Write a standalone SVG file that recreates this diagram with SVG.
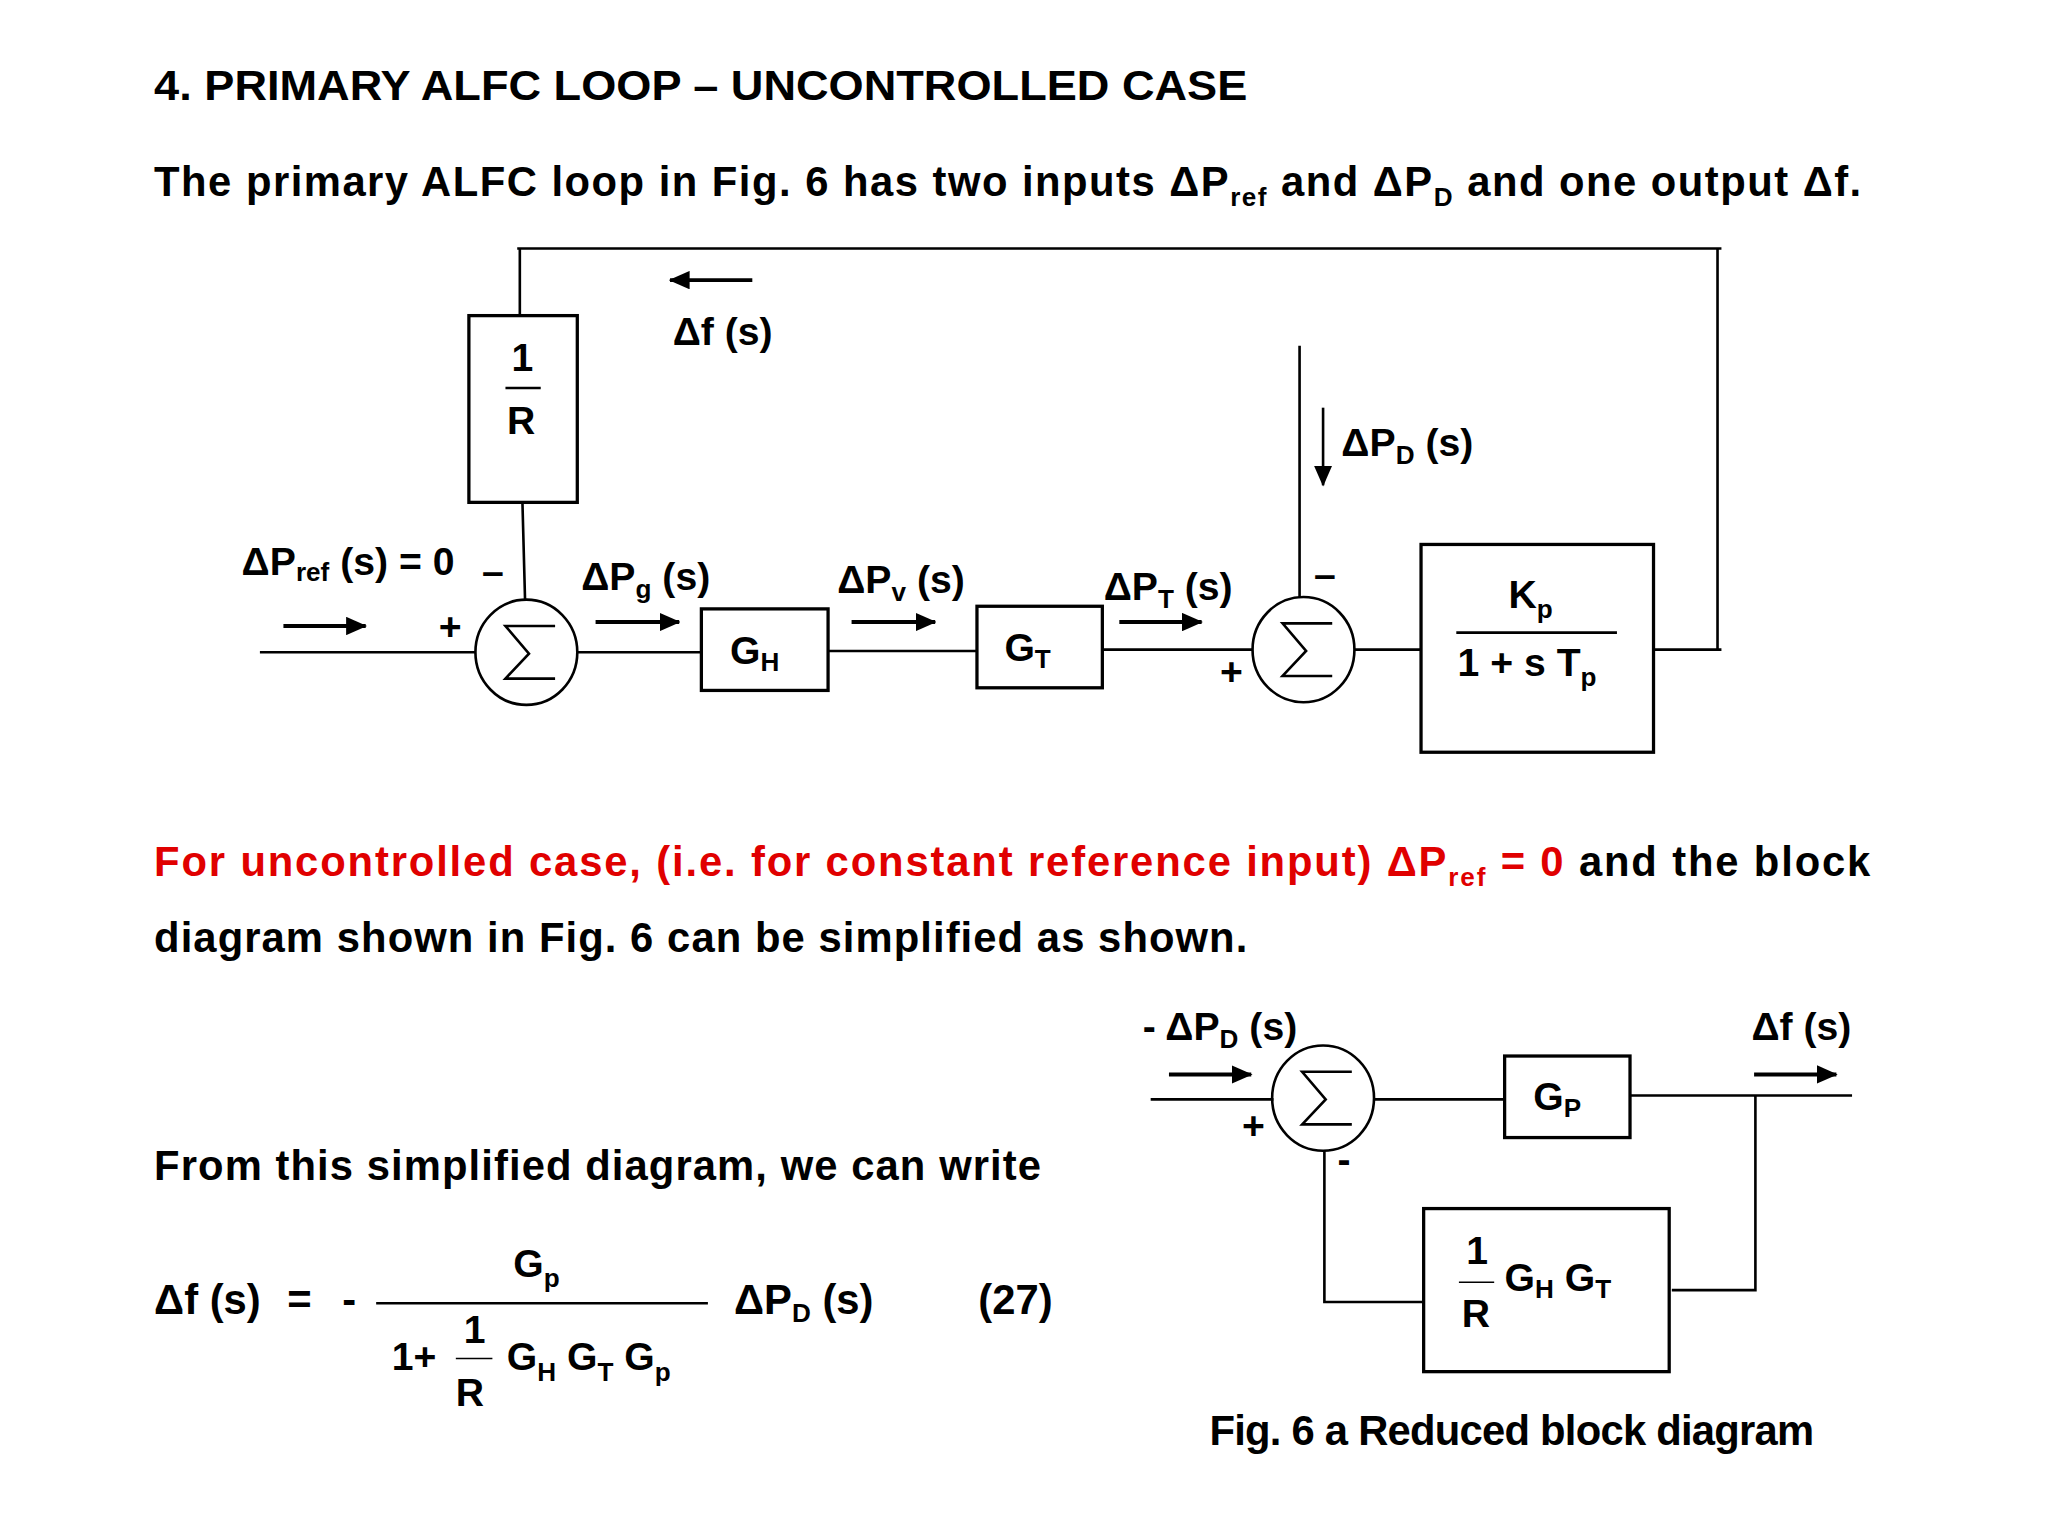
<svg xmlns="http://www.w3.org/2000/svg" width="2048" height="1536" viewBox="0 0 2048 1536">
<style>
text{font-family:"Liberation Sans",Arial,sans-serif;font-weight:bold;fill:#000}
.t{font-size:32px}
.l{font-size:30px}
.s{font-size:20px}
.red{fill:#e00000}
.ln{stroke:#000;stroke-width:2;fill:none}
.bx{stroke:#000;stroke-width:2.5;fill:none}
</style>
<defs>
<marker id="ah2" markerWidth="16" markerHeight="14" refX="15" refY="7" orient="auto" markerUnits="userSpaceOnUse"><path d="M0,0 L16,7 L0,14 Z" fill="#000"/></marker>
</defs>
<rect width="2048" height="1536" fill="#fff"/>
<g transform="scale(1.3061,1.3151)">
<g id="texts">
<text class="t" x="118" y="76" textLength="837" lengthAdjust="spacingAndGlyphs">4.   PRIMARY ALFC LOOP – UNCONTROLLED CASE</text>
<text class="t" x="118" y="149" textLength="1307">The primary ALFC loop in Fig. 6 has two inputs  ΔP<tspan class="s" dy="8">ref</tspan><tspan dy="-8"> and ΔP</tspan><tspan class="s" dy="8">D</tspan><tspan dy="-8">  and one output Δf.</tspan></text>
<text class="t" x="118" y="666" textLength="1314"><tspan class="red">For uncontrolled case, (i.e. for constant reference input) ΔP</tspan><tspan class="s red" dy="8">ref</tspan><tspan class="red" dy="-8"> = 0</tspan> and the block</text>
<text class="t" x="118" y="724" textLength="837">diagram shown in Fig. 6 can be simplified as shown.</text>
<text class="t" x="118" y="897" textLength="679">From this simplified diagram, we can write</text>
<text class="t" x="926" y="1099" textLength="463">Fig. 6 a Reduced block diagram</text>
</g>
<g id="connectors">
<path class="ln" d="M396,189 H1318 M1315,189 V494 M1265,494 H1318 M398,189 V240 M400,382 L402,456 M199,496 H364 M442,496 H537 M634,495 H748 M844,494 H959 M995,263 V454 M1037,494 H1088"/>
<line x1="576" y1="213" x2="513" y2="213" stroke="#000" stroke-width="3" marker-end="url(#ah2)"/>
<line x1="217" y1="476" x2="280" y2="476" stroke="#000" stroke-width="3" marker-end="url(#ah2)"/>
<line x1="456" y1="473" x2="520" y2="473" stroke="#000" stroke-width="3" marker-end="url(#ah2)"/>
<line x1="652" y1="473" x2="716" y2="473" stroke="#000" stroke-width="3" marker-end="url(#ah2)"/>
<line x1="857" y1="473" x2="920" y2="473" stroke="#000" stroke-width="3" marker-end="url(#ah2)"/>
<line x1="1013" y1="310" x2="1013" y2="369" stroke="#000" stroke-width="2" marker-end="url(#ah2)"/>
<path class="ln" d="M881,836 H975 M1052,836 H1152 M1248,833 H1418 M1344,833 V981 H1280 M1090,990 H1014 V875"/>
<line x1="895" y1="817" x2="958" y2="817" stroke="#000" stroke-width="3" marker-end="url(#ah2)"/>
<line x1="1343" y1="817" x2="1406" y2="817" stroke="#000" stroke-width="3" marker-end="url(#ah2)"/>
</g>
<g id="n-invR">
<rect class="bx" x="359" y="240" width="83" height="142"/>
<text class="l" x="400" y="282" text-anchor="middle">1</text>
<line class="ln" x1="387" y1="295" x2="414" y2="295"/>
<text class="l" x="399" y="330" text-anchor="middle">R</text>
</g>
<g id="n-sum1">
<ellipse class="ln" cx="403" cy="496" rx="39" ry="40"/>
<path class="ln" d="M425,476 H387 L405,497 L387,516 H425"/>
</g>
<g id="n-GH"><rect class="bx" x="537" y="463" width="97" height="62"/><text class="l" x="559" y="505">G<tspan class="s" dy="5">H</tspan></text></g>
<g id="n-GT"><rect class="bx" x="748" y="461" width="96" height="62"/><text class="l" x="769" y="503">G<tspan class="s" dy="5">T</tspan></text></g>
<g id="n-sum2">
<ellipse class="ln" cx="998" cy="494" rx="39" ry="40"/>
<path class="ln" d="M1020,474 H982 L1000,495 L982,514 H1020"/>
</g>
<g id="n-Kp">
<rect class="bx" x="1088" y="414" width="178" height="158"/>
<text class="l" x="1155" y="462">K<tspan class="s" dy="8">p</tspan></text>
<line class="ln" x1="1115" y1="481" x2="1238" y2="481"/>
<text class="l" x="1116" y="514">1 + s T<tspan class="s" dy="8">p</tspan></text>
</g>
<g id="labels1">
<text class="l" x="185" y="437">ΔP<tspan class="s" dy="5">ref</tspan><tspan dy="-5"> (s) = 0</tspan></text>
<text class="l" x="369" y="445">–</text>
<text class="l" x="336" y="487">+</text>
<text class="l" x="515" y="262">Δf (s)</text>
<text class="l" x="445" y="449">ΔP<tspan class="s" dy="6">g</tspan><tspan dy="-6"> (s)</tspan></text>
<text class="l" x="641" y="451">ΔP<tspan class="s" dy="6">v</tspan><tspan dy="-6"> (s)</tspan></text>
<text class="l" x="845" y="456">ΔP<tspan class="s" dy="6">T</tspan><tspan dy="-6"> (s)</tspan></text>
<text class="l" x="934" y="521">+</text>
<text class="l" x="1006" y="447">–</text>
<text class="l" x="1027" y="347">ΔP<tspan class="s" dy="6">D</tspan><tspan dy="-6"> (s)</tspan></text>
</g>
<g id="equation">
<text class="t" x="118" y="999">Δf (s)</text>
<text class="t" x="220" y="999">=</text>
<text class="t" x="262" y="999">-</text>
<line class="ln" x1="288" y1="991" x2="542" y2="991"/>
<text class="l" x="393" y="971">G<tspan class="s" dy="8">p</tspan></text>
<text class="l" x="300" y="1042">1+</text>
<text class="l" x="355" y="1021">1</text>
<line x1="349" y1="1033" x2="377" y2="1033" stroke="#000" stroke-width="1"/>
<text class="l" x="349" y="1069">R</text>
<text class="l" x="388" y="1042">G<tspan class="s" dy="8">H</tspan><tspan dy="-8"> G</tspan><tspan class="s" dy="8">T</tspan><tspan dy="-8"> G</tspan><tspan class="s" dy="8">p</tspan></text>
<text class="t" x="562" y="999">ΔP<tspan class="s" dy="6">D</tspan><tspan dy="-6"> (s)</tspan></text>
<text class="t" x="749" y="999">(27)</text>
</g>
<g id="n-sum3">
<ellipse class="ln" cx="1013" cy="835" rx="39" ry="40"/>
<path class="ln" d="M1035,815 H997 L1015,836 L997,855 H1035"/>
</g>
<g id="n-Gp"><rect class="bx" x="1152" y="803" width="96" height="62"/><text class="l" x="1174" y="844">G<tspan class="s" dy="5">P</tspan></text></g>
<g id="n-fb">
<rect class="bx" x="1090" y="919" width="188" height="124"/>
<text class="l" x="1131" y="961" text-anchor="middle">1</text>
<line x1="1117" y1="975" x2="1144" y2="975" stroke="#000" stroke-width="1"/>
<text class="l" x="1130" y="1009" text-anchor="middle">R</text>
<text class="l" x="1152" y="982">G<tspan class="s" dy="5">H</tspan><tspan dy="-5"> G</tspan><tspan class="s" dy="5">T</tspan></text>
</g>
<g id="labels2">
<text class="l" x="875" y="791">- ΔP<tspan class="s" dy="6">D</tspan><tspan dy="-6"> (s)</tspan></text>
<text class="l" x="1341" y="791">Δf (s)</text>
<text class="l" x="951" y="866">+</text>
<text class="l" x="1024" y="892">-</text>
</g>
</g>
</svg>
